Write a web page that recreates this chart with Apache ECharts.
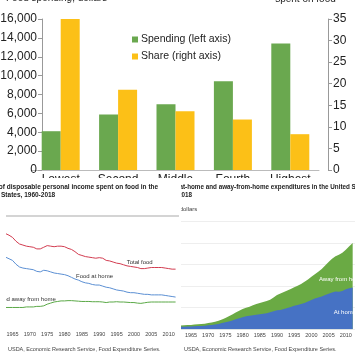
<!DOCTYPE html>
<html><head><meta charset="utf-8">
<script src="https://cdn.jsdelivr.net/npm/echarts@6/dist/echarts.min.js"></script>
<style>
html,body{margin:0;padding:0;background:#fff;}
#root{position:relative;width:362px;height:362px;overflow:hidden;background:#fff;}
.wrap{position:absolute;overflow:hidden;}
.ch{position:absolute;top:0;}
</style></head>
<body>
<div id="root">
  <div id="a" class="ch" style="left:0;top:0;width:362px;height:178px;"></div>
  <div class="wrap" style="left:0;top:178px;width:179px;height:184px;">
    <div id="b" class="ch" style="left:-30px;width:230px;height:184px;"></div>
  </div>
  <div class="wrap" style="left:181px;top:178px;width:174px;height:184px;">
    <div id="c" class="ch" style="left:-30px;width:230px;height:184px;"></div>
  </div>
</div>
<script>
// ---------- Top chart data ----------
var quintiles = ['Lowest', 'Second', 'Middle', 'Fourth', 'Highest'];
var spending = [4110, 5880, 6980, 9400, 13400];
var share = [35.1, 18.6, 13.6, 11.7, 8.3];
var spendingTicks = [0, 16000, 2000];
var shareTicks = [0, 35, 5];

// ---------- Bottom-left chart data (percent of disposable income) ----------
var yearsB = [];
for (var yb = 1963; yb <= 2012; yb++) yearsB.push(yb);
var totalFood = [16.7,16.4,16.0,15.3,14.8,14.6,14.4,14.3,14.2,13.9,
                 13.9,14.2,14.5,14.4,14.3,14.4,14.4,14.3,14.0,13.8,
                 13.4,12.9,12.7,12.5,12.4,12.3,12.2,12.3,12.2,11.8,
                 11.7,11.5,11.3,11.2,11.0,10.8,10.7,10.6,10.5,10.3,
                 10.3,10.4,10.5,10.5,10.5,10.5,10.4,10.3,10.2,10.2];
var foodAtHome = [12.4,12.1,11.8,11.1,10.6,10.4,10.3,10.2,10.1,9.8,
                  9.7,10.0,9.9,9.7,9.5,9.4,9.3,9.2,9.0,8.7,
                  8.4,8.2,7.9,7.7,7.6,7.4,7.3,7.3,7.1,6.9,
                  6.8,6.6,6.4,6.3,6.2,6.0,5.9,5.9,5.8,5.7,
                  5.6,5.6,5.5,5.5,5.5,5.5,5.4,5.3,5.2,5.1];
var foodAway = [3.2,3.2,3.2,3.2,3.2,3.2,3.3,3.3,3.3,3.4,
                3.4,3.5,3.8,4.0,4.2,4.3,4.4,4.4,4.45,4.45,
                4.4,4.35,4.3,4.3,4.3,4.25,4.25,4.25,4.2,4.1,
                4.2,4.2,4.25,4.2,4.2,4.15,4.1,4.1,4.0,3.95,
                4.05,4.15,4.2,4.2,4.2,4.2,4.2,4.2,4.2,4.2];

// ---------- Bottom-right chart data (billion dollars) ----------
var yearsC = [];
for (var yc = 1961; yc <= 2012; yc++) yearsC.push(yc);
var atHome = [43,45,47,50,53,56,59,63,67,74,
              80,88,100,115,130,145,165,185,205,225,
              240,252,262,272,280,290,300,315,335,352,
              360,375,395,415,435,450,470,490,515,545,
              570,590,610,635,660,685,700,695,710,745,
              760,775];
var awayFromHome = [25,26,27,28,29,31,33,35,38,41,
                    45,50,57,65,80,95,110,125,140,150,
                    160,168,183,198,208,215,225,235,255,283,
                    305,315,325,335,345,360,370,390,410,430,
                    450,480,510,550,590,625,655,690,710,730,
                    780,825];

var FONT = 'Liberation Sans, Arial, sans-serif';
function pairs(xs, ys){ return xs.map(function(x,i){ return [x, ys[i]]; }); }
// top of the stacked area = at-home + away-from-home
var stackedTop = atHome.map(function(v,i){ return v + awayFromHome[i]; });

// ---------- Chart A ----------
var ca = echarts.init(document.getElementById('a'), null, {renderer:'canvas'});
ca.setOption({
  animation:false,
  textStyle:{fontFamily:FONT},
  grid:{left:32, right:43, top:19, bottom:8, outerBoundsMode:'none', containLabel:false},
  legend:{
    orient:'vertical', left:127, top:29, icon:'rect', itemWidth:6, itemHeight:6, itemGap:6,
    textStyle:{fontSize:10.5, color:'#222', fontFamily:FONT, lineHeight:11, padding:[0,0,0,-2]},
    data:['Spending (left axis)','Share (right axis)']
  },
  xAxis:{
    type:'category', data:quintiles,
    axisLine:{show:true, lineStyle:{color:'#bbb', width:1}},
    axisTick:{show:false},
    axisLabel:{fontSize:12, color:'#222', margin:4, fontFamily:FONT}
  },
  yAxis:[{
    type:'value', position:'left', offset:-10,
    min:spendingTicks[0], max:spendingTicks[1], interval:spendingTicks[2],
    axisLine:{show:true, lineStyle:{color:'#999'}},
    axisTick:{show:true, length:4, lineStyle:{color:'#999'}},
    splitLine:{show:false},
    axisLabel:{fontSize:12, color:'#222', margin:5, fontFamily:FONT,
      formatter:function(v){ return v.toLocaleString('en-US'); }}
  },{
    type:'value', position:'right', offset:9,
    min:shareTicks[0], max:shareTicks[1], interval:shareTicks[2],
    axisLine:{show:true, lineStyle:{color:'#999'}},
    axisTick:{show:true, length:4, lineStyle:{color:'#999'}},
    splitLine:{show:false},
    axisLabel:{fontSize:12, color:'#222', margin:5, fontFamily:FONT}
  }],
  series:[{
    name:'Spending (left axis)', type:'bar', yAxisIndex:0, data:spending,
    barWidth:19, barGap:'0%', itemStyle:{color:'#6aa84f'}
  },{
    name:'Share (right axis)', type:'bar', yAxisIndex:1, data:share,
    barWidth:19, barGap:'0%', itemStyle:{color:'#fcc017'}
  }],
  graphic:[
    {type:'text', left:6, top:-7, style:{text:'Food spending, dollars', fontSize:10, fill:'#222', fontFamily:FONT}},
    {type:'text', right:14, top:-19, style:{text:'Share of income\nspent on food', fontSize:10, lineHeight:12, align:'right', fill:'#222', fontFamily:FONT}}
  ]
});

// ---------- Chart B ----------
var cb = echarts.init(document.getElementById('b'), null, {renderer:'canvas'});
cb.setOption({
  animation:false,
  textStyle:{fontFamily:FONT},
  grid:{left:25.15, right:14, top:37.5, bottom:37, outerBoundsMode:'none', containLabel:false},
  xAxis:[{
    type:'value', min:1960, max:2015, interval:5,
    axisLine:{show:false}, axisTick:{show:false}, splitLine:{show:false},
    axisLabel:{fontSize:5.5, color:'#444', margin:6, fontFamily:FONT, formatter:function(v){return String(v);}}
  },{
    type:'value', position:'top', min:1960, max:2015, interval:5,
    axisLine:{show:true, lineStyle:{color:'#d4d4d4', width:2}},
    axisTick:{show:false}, axisLabel:{show:false}, splitLine:{show:false}
  }],
  yAxis:{type:'value', min:0, max:20, show:false},
  series:[{
    type:'line', data:pairs(yearsB, totalFood), showSymbol:false,
    lineStyle:{color:'#d23c50', width:1},
    markPoint:{symbol:'circle', symbolSize:0, silent:true,
      data:[{coord:[1997.9, 11.5], value:'Total food'}],
      label:{show:true, position:'inside', align:'left', fontSize:6, color:'#333', fontFamily:FONT, formatter:'{c}'}}
  },{
    type:'line', data:pairs(yearsB, foodAtHome), showSymbol:false,
    lineStyle:{color:'#5b8fd3', width:1},
    markPoint:{symbol:'circle', symbolSize:0, silent:true,
      data:[{coord:[1983.3, 8.8], value:'Food at home'}],
      label:{show:true, position:'inside', align:'left', fontSize:6, color:'#333', fontFamily:FONT, formatter:'{c}'}}
  },{
    type:'line', data:pairs(yearsB, foodAway), showSymbol:false,
    lineStyle:{color:'#5aa846', width:1},
    markPoint:{symbol:'circle', symbolSize:0, silent:true,
      data:[{coord:[1977.5, 4.7], value:'Food away from home'}],
      label:{show:true, position:'inside', align:'right', fontSize:6, color:'#333', fontFamily:FONT, formatter:'{c}'}}
  }],
  graphic:[
    {type:'rect', left:30, top:22, z:100, shape:{width:6, height:142}, style:{fill:'#fff'}},
    {type:'text', left:9, top:5, z:100, style:{text:'Share of disposable personal income spent on food in the\nUnited States, 1960-2018', fontSize:6.5, fontWeight:'bold', lineHeight:8, fill:'#222', fontFamily:FONT}},
    {type:'text', left:38, top:168, z:100, style:{text:'USDA, Economic Research Service, Food Expenditure Series.', fontSize:5.5, fill:'#444', fontFamily:FONT}}
  ]
});

// ---------- Chart C ----------
var cc = echarts.init(document.getElementById('c'), null, {renderer:'canvas'});
cc.setOption({
  animation:false,
  textStyle:{fontFamily:FONT},
  grid:{left:22.8, right:18, top:43.5, bottom:32.7, outerBoundsMode:'none', containLabel:false},
  xAxis:{
    type:'value', min:1960, max:2015, interval:5,
    axisLine:{show:false}, axisTick:{show:false}, splitLine:{show:false},
    axisLabel:{fontSize:5.5, color:'#444', margin:3, fontFamily:FONT, formatter:function(v){return String(v);}}
  },
  yAxis:{type:'value', min:0, max:2000, interval:400,
    axisLine:{show:false}, axisTick:{show:false}, axisLabel:{show:false},
    splitLine:{show:true, lineStyle:{color:'#eeeeee', width:1}}},
  series:[{
    name:'Away from home', type:'line', data:pairs(yearsC, stackedTop), showSymbol:false, z:2,
    lineStyle:{width:0}, areaStyle:{color:'#6aaa44', opacity:1},
    markPoint:{symbol:'circle', symbolSize:0, silent:true,
      data:[{coord:[2002.2, 936], value:'Away from home'}],
      label:{show:true, position:'inside', align:'left', fontSize:6, color:'#fff', fontFamily:FONT, formatter:'{c}'}}
  },{
    name:'At home', type:'line', data:pairs(yearsC, atHome), showSymbol:false, z:3,
    lineStyle:{width:0}, areaStyle:{color:'#4672c4', opacity:1},
    markPoint:{symbol:'circle', symbolSize:0, silent:true,
      data:[{coord:[2006.5, 322], value:'At home'}],
      label:{show:true, position:'inside', align:'left', fontSize:6, color:'#fff', fontFamily:FONT, formatter:'{c}'}}
  }],
  graphic:[
    {type:'text', left:11, top:5, z:100, style:{text:'Food-at-home and away-from-home expenditures in the United States,\n1960-2018', fontSize:6.3, fontWeight:'bold', lineHeight:8, fill:'#222', fontFamily:FONT}},
    {type:'text', left:11, top:28, z:100, style:{text:'Billion dollars', fontSize:6, fill:'#444', fontFamily:FONT}},
    {type:'text', left:33, top:168, z:100, style:{text:'USDA, Economic Research Service, Food Expenditure Series.', fontSize:5.5, fill:'#444', fontFamily:FONT}}
  ]
});
</script>
</body></html>
